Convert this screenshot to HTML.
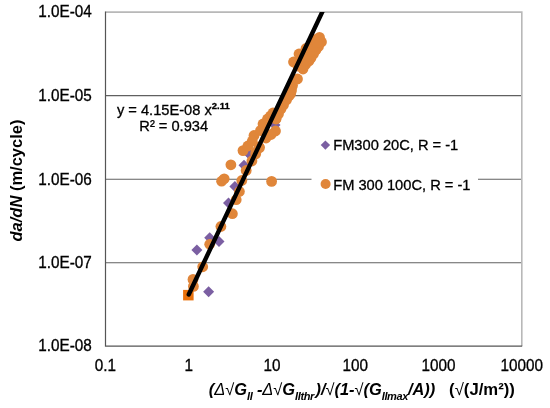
<!DOCTYPE html><html><head><meta charset="utf-8"><title>chart</title>
<style>html,body{margin:0;padding:0;background:#fff;}svg{display:block;}text{font-family:"Liberation Sans",Arial,sans-serif;fill:#000;stroke:#000;stroke-width:0.3px;}</style></head><body>
<svg width="550" height="408" viewBox="0 0 550 408">
<rect width="550" height="408" fill="#fff"/>
<defs><clipPath id="pc"><rect x="105.5" y="12.1" width="416.29999999999995" height="344.0"/></clipPath></defs>
<line x1="105.5" y1="95.6" x2="521.8" y2="95.6" stroke="#606060" stroke-width="1.1"/>
<line x1="105.5" y1="179.3" x2="521.8" y2="179.3" stroke="#606060" stroke-width="1.1"/>
<line x1="105.5" y1="262.8" x2="521.8" y2="262.8" stroke="#606060" stroke-width="1.1"/>
<rect x="311.5" y="130" width="166.5" height="66" fill="#fff"/>
<path d="M105.5 12.1 H521.8 V346.1" fill="none" stroke="#b8b8b8" stroke-width="1.6"/>
<path d="M105.5 11.4 V346.1 H522.1999999999999" fill="none" stroke="#555" stroke-width="1.2"/>
<path d="M196.9 244.6 L202.4 250.1 L196.9 255.6 L191.4 250.1 Z" fill="#7B5FA2"/>
<path d="M208.6 286.2 L214.1 291.7 L208.6 297.2 L203.1 291.7 Z" fill="#7B5FA2"/>
<path d="M209.7 232.2 L215.2 237.7 L209.7 243.2 L204.2 237.7 Z" fill="#7B5FA2"/>
<path d="M219 235.9 L224.5 241.4 L219 246.9 L213.5 241.4 Z" fill="#7B5FA2"/>
<path d="M228.5 197.4 L234.0 202.9 L228.5 208.4 L223.0 202.9 Z" fill="#7B5FA2"/>
<path d="M234.9 180.9 L240.4 186.4 L234.9 191.9 L229.4 186.4 Z" fill="#7B5FA2"/>
<path d="M244 159.7 L249.5 165.2 L244 170.7 L238.5 165.2 Z" fill="#7B5FA2"/>
<path d="M249.6 149.1 L255.1 154.6 L249.6 160.1 L244.1 154.6 Z" fill="#7B5FA2"/>
<path d="M275 119.5 L280.5 125 L275 130.5 L269.5 125 Z" fill="#7B5FA2"/>
<path d="M249 148.0 L254.5 153.5 L249 159.0 L243.5 153.5 Z" fill="#7B5FA2"/>
<circle cx="193.4" cy="286.4" r="5.4" fill="#E0863A"/>
<circle cx="193.0" cy="279.4" r="5.4" fill="#E0863A"/>
<circle cx="202.7" cy="266.8" r="5.4" fill="#E0863A"/>
<circle cx="209.7" cy="244.3" r="5.4" fill="#E0863A"/>
<circle cx="220.9" cy="226.5" r="5.4" fill="#E0863A"/>
<circle cx="232.4" cy="213.7" r="5.4" fill="#E0863A"/>
<circle cx="236.2" cy="199.7" r="5.4" fill="#E0863A"/>
<circle cx="239.4" cy="191.5" r="5.4" fill="#E0863A"/>
<circle cx="241.8" cy="180.5" r="5.4" fill="#E0863A"/>
<circle cx="221.6" cy="181.2" r="5.4" fill="#E0863A"/>
<circle cx="224.2" cy="178.8" r="5.4" fill="#E0863A"/>
<circle cx="271.6" cy="181.4" r="5.4" fill="#E0863A"/>
<circle cx="230.9" cy="164.8" r="5.4" fill="#E0863A"/>
<circle cx="246.2" cy="170.5" r="5.4" fill="#E0863A"/>
<circle cx="251.9" cy="161" r="5.4" fill="#E0863A"/>
<circle cx="255.7" cy="154" r="5.4" fill="#E0863A"/>
<circle cx="259.5" cy="147.6" r="5.4" fill="#E0863A"/>
<circle cx="243" cy="150.6" r="5.4" fill="#E0863A"/>
<circle cx="247.9" cy="146" r="5.4" fill="#E0863A"/>
<circle cx="254" cy="135.5" r="5.4" fill="#E0863A"/>
<circle cx="256" cy="152" r="5.4" fill="#E0863A"/>
<circle cx="259" cy="147" r="5.4" fill="#E0863A"/>
<circle cx="266" cy="138" r="5.4" fill="#E0863A"/>
<circle cx="275.5" cy="131" r="5.4" fill="#E0863A"/>
<circle cx="263" cy="124" r="5.4" fill="#E0863A"/>
<circle cx="260.5" cy="130.5" r="5.4" fill="#E0863A"/>
<circle cx="252.3" cy="141" r="5.4" fill="#E0863A"/>
<circle cx="271" cy="134.5" r="5.4" fill="#E0863A"/>
<circle cx="267.5" cy="119" r="5.4" fill="#E0863A"/>
<circle cx="270.5" cy="116" r="5.4" fill="#E0863A"/>
<circle cx="273" cy="113" r="5.4" fill="#E0863A"/>
<circle cx="276" cy="119" r="5.4" fill="#E0863A"/>
<circle cx="276" cy="118.5" r="5.4" fill="#E0863A"/>
<circle cx="278.5" cy="114" r="5.4" fill="#E0863A"/>
<circle cx="281" cy="109" r="5.4" fill="#E0863A"/>
<circle cx="283.5" cy="105" r="5.4" fill="#E0863A"/>
<circle cx="286.5" cy="100" r="5.4" fill="#E0863A"/>
<circle cx="289" cy="96" r="5.4" fill="#E0863A"/>
<circle cx="291" cy="92" r="5.4" fill="#E0863A"/>
<circle cx="291.5" cy="87" r="5.4" fill="#E0863A"/>
<circle cx="290.5" cy="94" r="5.4" fill="#E0863A"/>
<circle cx="291.5" cy="90" r="5.4" fill="#E0863A"/>
<circle cx="292.5" cy="85.5" r="5.4" fill="#E0863A"/>
<circle cx="297.5" cy="79" r="5.4" fill="#E0863A"/>
<circle cx="303" cy="69" r="5.4" fill="#E0863A"/>
<circle cx="293.5" cy="62" r="5.4" fill="#E0863A"/>
<circle cx="299" cy="54" r="5.4" fill="#E0863A"/>
<circle cx="306" cy="48.5" r="5.4" fill="#E0863A"/>
<circle cx="298" cy="66" r="5.4" fill="#E0863A"/>
<circle cx="300.5" cy="62" r="5.4" fill="#E0863A"/>
<circle cx="303" cy="58" r="5.4" fill="#E0863A"/>
<circle cx="305.5" cy="54" r="5.4" fill="#E0863A"/>
<circle cx="308" cy="50" r="5.4" fill="#E0863A"/>
<circle cx="310.5" cy="46" r="5.4" fill="#E0863A"/>
<circle cx="313" cy="42.5" r="5.4" fill="#E0863A"/>
<circle cx="316" cy="39.5" r="5.4" fill="#E0863A"/>
<circle cx="305.5" cy="64.5" r="5.4" fill="#E0863A"/>
<circle cx="309" cy="61" r="5.4" fill="#E0863A"/>
<circle cx="311" cy="58" r="5.4" fill="#E0863A"/>
<circle cx="313.5" cy="54" r="5.4" fill="#E0863A"/>
<circle cx="316" cy="50" r="5.4" fill="#E0863A"/>
<circle cx="318.5" cy="46.5" r="5.4" fill="#E0863A"/>
<circle cx="321.5" cy="42" r="5.4" fill="#E0863A"/>
<circle cx="319.5" cy="37.3" r="5.4" fill="#E0863A"/>
<circle cx="302" cy="66" r="5.4" fill="#E0863A"/>
<circle cx="305" cy="61" r="5.4" fill="#E0863A"/>
<circle cx="308" cy="56" r="5.4" fill="#E0863A"/>
<circle cx="311" cy="51" r="5.4" fill="#E0863A"/>
<circle cx="314" cy="46.5" r="5.4" fill="#E0863A"/>
<circle cx="317" cy="42.5" r="5.4" fill="#E0863A"/>
<rect x="183.1" y="289.9" width="10.5" height="10.5" fill="#E9710C"/>
<line x1="188.76" y1="294.49" x2="325.05" y2="6.10" stroke="#000" stroke-width="4.4" stroke-linecap="round" clip-path="url(#pc)"/>
<text transform="translate(91.8,17.3) scale(1,1.04)" font-size="15.3" text-anchor="end">1.0E-04</text>
<text transform="translate(91.8,100.8) scale(1,1.04)" font-size="15.3" text-anchor="end">1.0E-05</text>
<text transform="translate(91.8,184.5) scale(1,1.04)" font-size="15.3" text-anchor="end">1.0E-06</text>
<text transform="translate(91.8,268.0) scale(1,1.04)" font-size="15.3" text-anchor="end">1.0E-07</text>
<text transform="translate(91.8,351.3) scale(1,1.04)" font-size="15.3" text-anchor="end">1.0E-08</text>
<text transform="translate(105.5,370.7) scale(1,1.04)" font-size="15.3" text-anchor="middle">0.1</text>
<text transform="translate(188.8,370.7) scale(1,1.04)" font-size="15.3" text-anchor="middle">1</text>
<text transform="translate(272.0,370.7) scale(1,1.04)" font-size="15.3" text-anchor="middle">10</text>
<text transform="translate(355.3,370.7) scale(1,1.04)" font-size="15.3" text-anchor="middle">100</text>
<text transform="translate(438.5,370.7) scale(1,1.04)" font-size="15.3" text-anchor="middle">1000</text>
<text transform="translate(521.8,370.7) scale(1,1.04)" font-size="15.3" text-anchor="middle">10000</text>
<text transform="translate(116.9,114.6) scale(1,1.04)" font-size="14.67">y = 4.15E-08 x<tspan font-size="9.5" font-weight="bold" dy="-5.5">2.11</tspan></text>
<text transform="translate(139.3,130.9) scale(1,1.04)" font-size="14.67">R² = 0.934</text>
<path d="M325.4 140.4 L330.1 145.1 L325.4 149.8 L320.7 145.1 Z" fill="#7B5FA2"/>
<text transform="translate(333.2,150.3) scale(1,1.04)" font-size="14.67">FM300 20C, R = -1</text>
<circle cx="325.6" cy="184" r="5.0" fill="#E0863A"/>
<text transform="translate(333.2,189.5) scale(1,1.04)" font-size="14.67">FM 300 100C, R = -1</text>
<text transform="translate(22,241.5) rotate(-90)" font-size="16.5" font-weight="bold" style="stroke:none"><tspan font-style="italic">da/dN</tspan> (m/cycle)</text>
<text x="208.8" y="394.7" font-size="16.4" font-weight="bold" font-style="italic" style="stroke:none">(<tspan font-weight="normal">Δ</tspan><tspan font-weight="normal" font-style="normal">√</tspan>G<tspan font-size="11" dy="4.8" letter-spacing="-0.4">II</tspan><tspan dy="-4.8"> -</tspan><tspan font-weight="normal">Δ</tspan><tspan font-weight="normal" font-style="normal">√</tspan>G<tspan font-size="11" dy="4.8" letter-spacing="-0.4">IIthr</tspan><tspan dy="-4.8" dx="1.6">)/</tspan><tspan font-weight="normal" font-style="normal">√</tspan>(1-<tspan font-weight="normal" font-style="normal">√</tspan>(G<tspan font-size="11" dy="4.8" letter-spacing="-0.4">IImax</tspan><tspan dy="-4.8">/A))</tspan><tspan font-style="normal" font-size="16.7">&#160;&#160;&#160;(</tspan><tspan font-weight="normal" font-style="normal" font-size="16.7">√</tspan><tspan font-style="normal" font-size="16.7">(J/m²))</tspan></text>
</svg></body></html>
